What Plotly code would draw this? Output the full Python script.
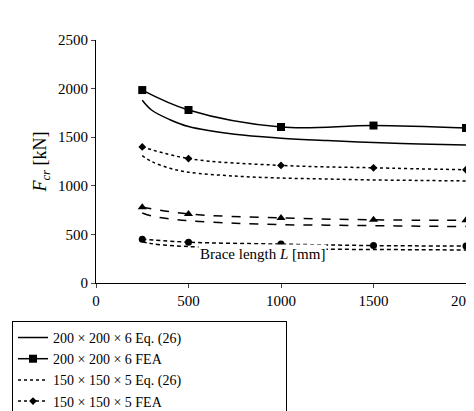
import plotly.graph_objects as go

# DATA
L_eq = [250, 300, 400, 500, 750, 1000, 1250, 1500, 1750, 2000]
L_fea = [250, 500, 1000, 1500, 2000]

eq_200 = [1880, 1780, 1680, 1610, 1530, 1490, 1465, 1445, 1430, 1420]
fea_200 = [1985, 1780, 1605, 1620, 1595]
eq_150 = [1310, 1250, 1180, 1140, 1100, 1080, 1070, 1060, 1055, 1050]
fea_150 = [1400, 1280, 1210, 1185, 1165]
eq_100x4 = [720, 690, 660, 640, 615, 600, 595, 590, 585, 580]
fea_100x4 = [780, 710, 670, 650, 645]
eq_100x3 = [425, 405, 385, 375, 360, 350, 347, 345, 342, 340]
fea_100x3 = [450, 420, 400, 385, 380]

names = ['200 × 200 × 6 Eq. (26)', '200 × 200 × 6 FEA',
         '150 × 150 × 5 Eq. (26)', '150 × 150 × 5 FEA',
         '150 × 150 × 4 Eq. (26)', '150  × 150 × 4 FEA',
         '100 × 100 × 3 Eq. (26)', '100  × 100 × 3 FEA']

series = [(eq_200, fea_200, 'solid', 'square', 8),
          (eq_150, fea_150, 'dot', 'diamond', 6),
          (eq_100x4, fea_100x4, 'dash', 'triangle-up', 8),
          (eq_100x3, fea_100x3, '4px,3px', 'circle', 7)]

fig = go.Figure()
i = 0
for eq, fea, dash, sym, size in series:
    fig.add_trace(go.Scatter(x=L_eq, y=eq, name=names[i], mode='lines',
                             line=dict(color='black', width=1.5, dash=dash, shape='spline')))
    fig.add_trace(go.Scatter(x=L_fea, y=fea, name=names[i + 1], mode='lines+markers',
                             line=dict(color='black', width=1.5, dash=dash, shape='spline'),
                             marker=dict(symbol=sym, size=size, color='black')))
    i += 2

fig.add_annotation(x=900, y=200, text='Brace length <i>L</i> [mm]', showarrow=False,
                   yanchor='bottom', font=dict(size=15), bgcolor='white')

fig.update_layout(width=474, height=411, plot_bgcolor='white', paper_bgcolor='white',
                  margin=dict(l=88, r=16, t=32, b=136, autoexpand=False),
                  font=dict(family='Liberation Serif', size=15, color='black'),
                  xaxis=dict(range=[0, 2000], dtick=500, showgrid=False, showline=True,
                             linecolor='black', ticks='outside', ticklen=4, zeroline=False),
                  yaxis=dict(range=[0, 2500], dtick=500, showgrid=False, showline=True,
                             linecolor='black', ticks='outside', ticklen=4, zeroline=False,
                             title=dict(text='<i>F<sub>cr</sub></i> [kN]', standoff=6)),
                  legend=dict(orientation='h', x=-0.227, y=-0.156, xanchor='left', yanchor='top',
                              entrywidth=228, bordercolor='black', borderwidth=1,
                              font=dict(size=14), tracegroupgap=0))

fig.write_html("out.html")
